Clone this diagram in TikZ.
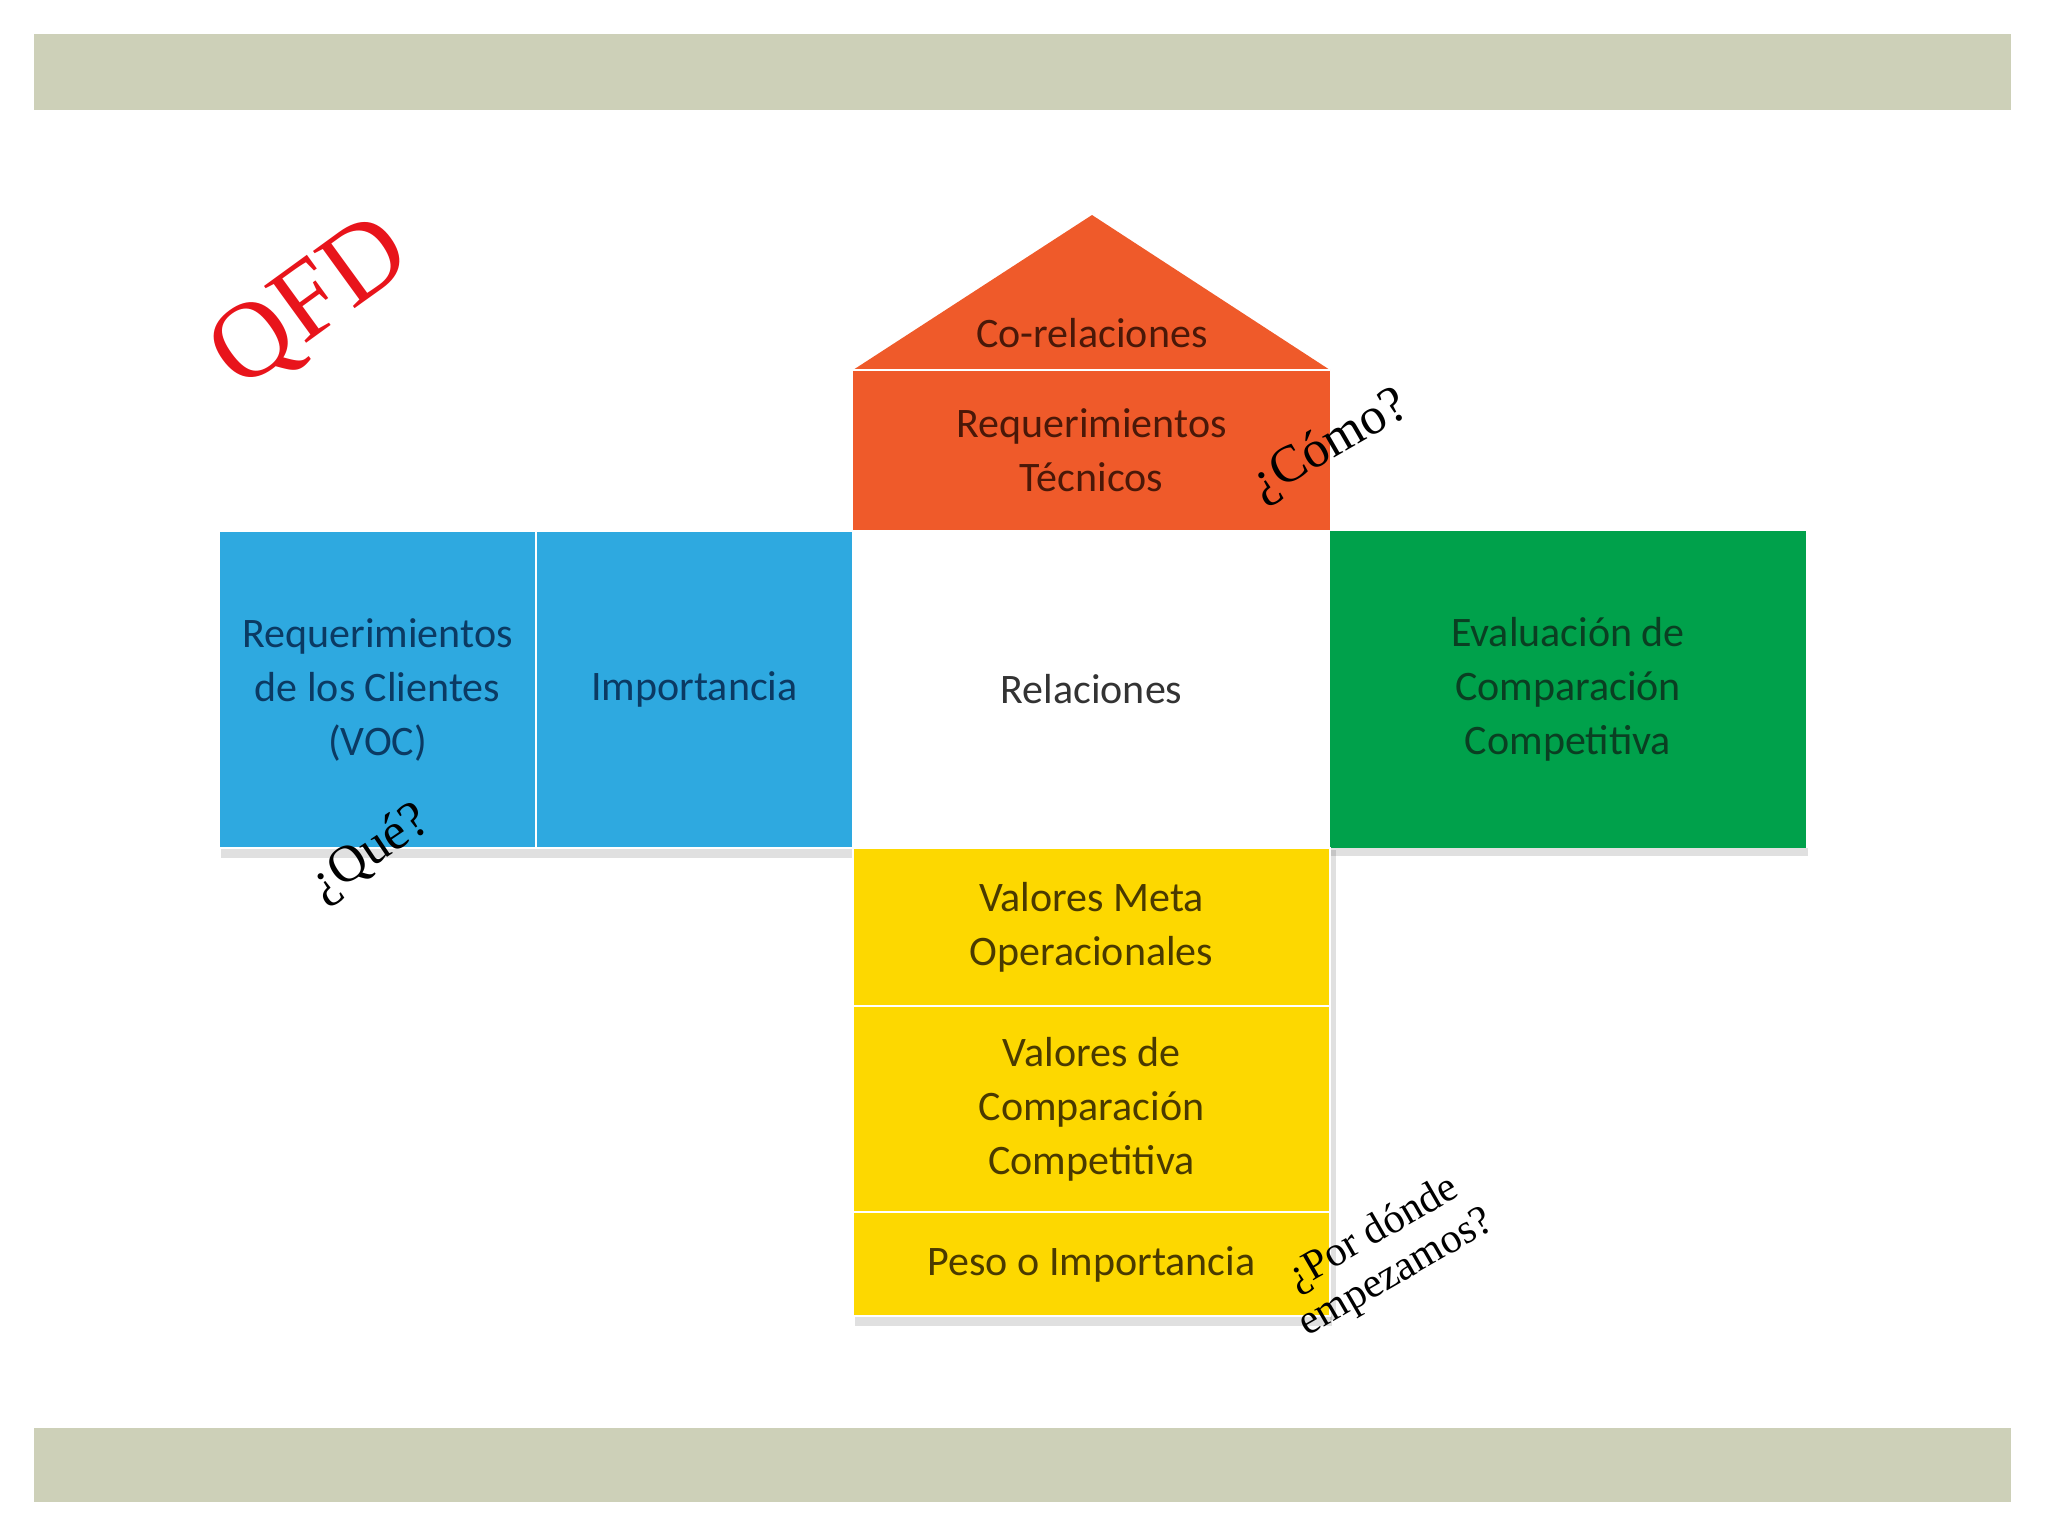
\documentclass[tikz,border=0pt]{standalone}
\usepackage{fontspec}
\setmainfont{Carlito}
\newfontfamily\serifx{Liberation Serif}
\definecolor{bandc}{HTML}{CDD0B8}
\definecolor{orangec}{HTML}{EF5A2A}
\definecolor{bluec}{HTML}{2EA9E0}
\definecolor{greenc}{HTML}{00A14B}
\definecolor{yellowc}{HTML}{FDD800}
\definecolor{tOrange}{HTML}{4A1808}
\definecolor{tBlue}{HTML}{0B3A63}
\definecolor{tGreen}{HTML}{0A3F22}
\definecolor{tYellow}{HTML}{4A3A00}
\definecolor{qfdred}{HTML}{E8141B}
\tikzset{
  cell/.style={rectangle, inner sep=0pt, align=center, font=\fontsize{21}{27}\selectfont},
  bluecell/.style={cell, fill=bluec, text=tBlue, draw=white, line width=1pt},
  yelcell/.style={cell, fill=yellowc, text=tYellow, draw=white, line width=1pt},
  hand/.style={font=\serifx\fontsize{26}{26}\selectfont, text=black, inner sep=0pt},
  shade/.style={fill=black, opacity=0.12}
}
\begin{document}
\begin{tikzpicture}[x=0.5pt,y=-0.5pt]
\useasboundingbox (0,0) rectangle (2048,1536);
% bands
\fill[bandc] (34,34) rectangle (2011,110);
\fill[bandc] (34,1428) rectangle (2011,1502);
% shadows
\fill[shade] (221,848) rectangle (853,858);
\fill[shade] (1330,848) rectangle (1808,856);
\fill[shade] (855,1316) rectangle (1332,1326);
\fill[shade] (1330,850) rectangle (1336,1320);
% roof
\fill[orangec] (853,370) -- (1092,215) -- (1330,370) -- cycle;
\node[cell, text=tOrange] (corel) at (1092,333) {Co-relaciones};
% tecnicos
\node[cell, fill=orangec, text=tOrange, minimum width=238.5pt, minimum height=80pt] (tec) at (1091.5,450) {Requerimientos\\Técnicos};
\draw[white, line width=1pt] (tec.north west) -- (tec.north east);
% middle row
\node[bluecell, minimum width=158.5pt, minimum height=158.5pt] (voc) at (377.5,689.5) {Requerimientos\\de los Clientes\\(VOC)};
\node[bluecell, minimum width=158.5pt, minimum height=158.5pt] (imp) at (694.5,689.5) {Importancia};
\node[cell, fill=white, text=black!80, minimum width=238.5pt, minimum height=158.5pt] (rel) at (1091.5,689.5) {Relaciones};
\node[cell, fill=greenc, text=tGreen, minimum width=238pt, minimum height=158.5pt] (eval) at (1568,689.5) {Evaluación de\\Comparación\\Competitiva};
% yellow column
\node[yelcell, minimum width=238.5pt, minimum height=79pt] (meta) at (1091.5,927) {Valores Meta\\Operacionales};
\node[yelcell, minimum width=238.5pt, minimum height=103pt] (comp) at (1091.5,1109) {Valores de\\Comparación\\Competitiva};
\node[yelcell, minimum width=238.5pt, minimum height=52pt] (peso) at (1091.5,1264) {Peso o Importancia};
% handwritten-like labels
\node[font=\serifx\fontsize{54}{54}\selectfont, text=qfdred, rotate=36, inner sep=0pt] (qfd) at (312,306) {QFD};
\node[hand, rotate=30] (como) at (1330,446) {¿Cómo?};
\node[hand, rotate=34] (que) at (370,854) {¿Qué?};
\node[hand, rotate=30, align=center, font=\serifx\fontsize{21}{23}\selectfont] (donde) at (1385,1254) {¿Por dónde\\empezamos?};
\end{tikzpicture}
\end{document}
